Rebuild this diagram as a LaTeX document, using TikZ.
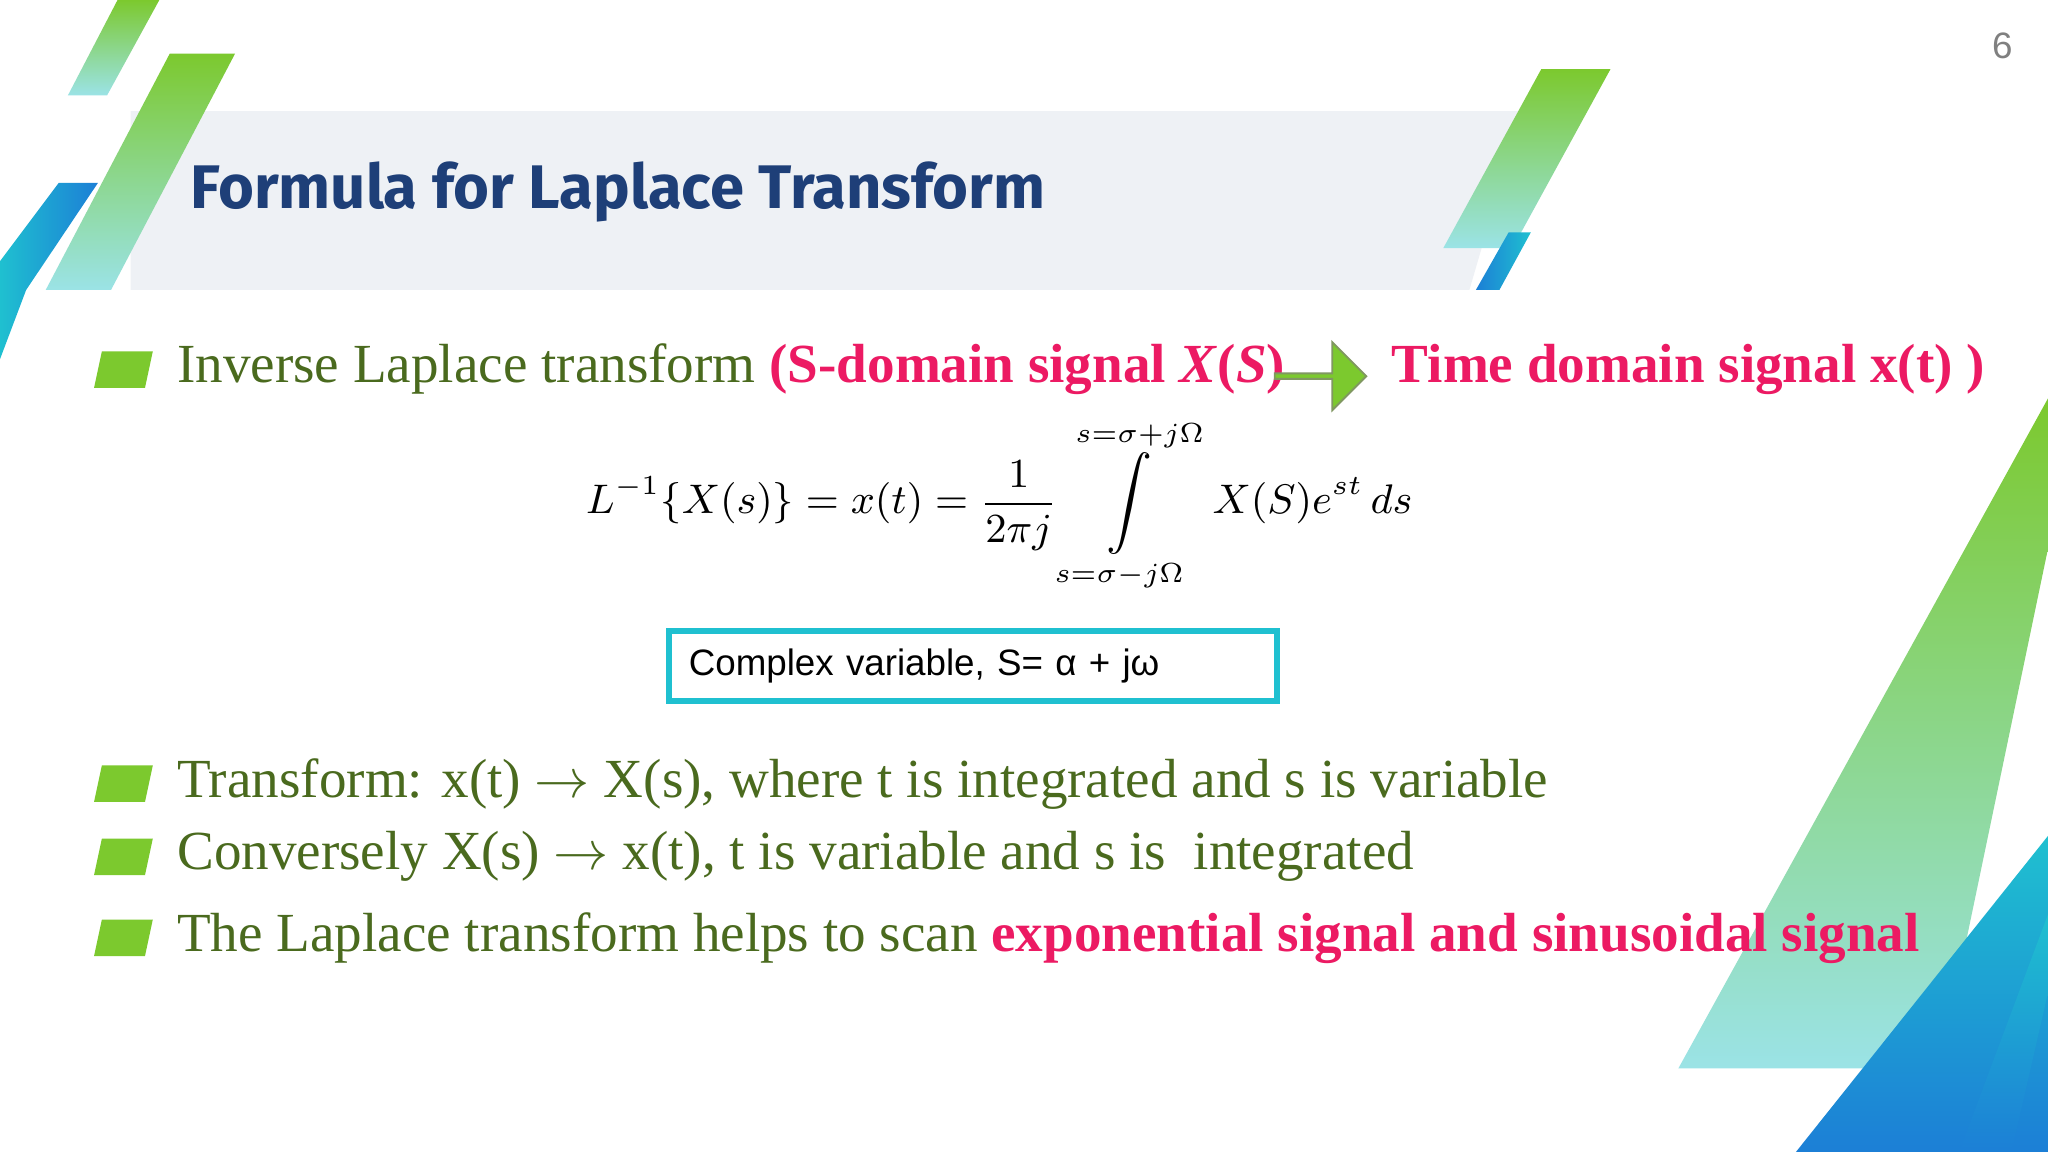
\documentclass[tikz,border=0pt]{standalone}
\usepackage{fontspec}
\setmainfont{Liberation Serif}
\newfontfamily\titlefont{Fira Sans}
\newfontfamily\arialf{Liberation Sans}
\usetikzlibrary{shapes.arrows}
\definecolor{txtg}{HTML}{4A6A1E}
\definecolor{pinkc}{HTML}{EC1A63}
\definecolor{navy}{HTML}{1E3F78}
\definecolor{gr}{HTML}{7CC92E}
\definecolor{cy}{HTML}{9BE3E6}
\definecolor{bl}{HTML}{1C7FD6}
\definecolor{cyb}{HTML}{1FC0D0}
\definecolor{ban}{HTML}{EEF1F5}
\tikzset{bul/.style={fill=gr},
  body/.style={anchor=west,inner sep=0,font=\fontsize{12}{14}\selectfont,text=txtg}}
\begin{document}
\begin{tikzpicture}[x=0.01cm,y=-0.01cm]
\useasboundingbox (0,0) rectangle (1568,882);
\fill[white] (0,0) rectangle (1568,882);
% banner
\fill[ban] (100,85) -- (1165,85) -- (1125,222) -- (100,222) -- cycle;
% top-left decor
\shade[top color=gr,bottom color=cy] (90,0) -- (122,0) -- (82,73) -- (52,73) -- cycle;
\shade[left color=cyb,right color=bl] (45,140) -- (75,140) -- (20,222) -- (0,275) -- (0,200) -- cycle;
\shade[top color=gr,bottom color=cy] (130,41) -- (180,41) -- (85,222) -- (35,222) -- cycle;
% top-right decor
\shade[top color=gr,bottom color=cy] (1180,53) -- (1233,53) -- (1158,190) -- (1105,190) -- cycle;
\shade[left color=bl,right color=cyb] (1155,178) -- (1172,178) -- (1148,222) -- (1130,222) -- cycle;
% bottom-right decor
\shade[top color=gr,bottom color=cy] (1568,305) -- (1568,420) -- (1485,818) -- (1285,818) -- cycle;
\shade[top color=cyb,bottom color=bl] (1568,640) -- (1568,882) -- (1375,882) -- cycle;
\shade[top color=cyb,bottom color=bl] (1568,700) -- (1568,760) -- (1540,882) -- (1500,882) -- cycle;
% title
\node[anchor=west,inner sep=0,text=navy,font=\titlefont\bfseries\fontsize{13.4}{15}\selectfont] (title) at (145,147) {Formula for Laplace Transform};
\node[text=gray,font=\arialf\fontsize{8}{9}\selectfont] (pg) at (1533,35) {6};
% bullets
\foreach \y in {283,600,656,718}{
  \fill[bul] (78,\y-14) -- (117,\y-14) -- (111,\y+14) -- (72,\y+14) -- cycle;}
\node[body] (t1) at (135,283) {Inverse Laplace transform \textcolor{pinkc}{\bfseries(S-domain signal \textit{X}(\textit{S})}};
\node[single arrow,fill=gr,draw=txtg!70,line width=0.4pt,minimum height=0.7cm,minimum width=0.52cm,single arrow head extend=0.08cm,inner sep=0] (arr) at (1010,288) {};
\node[body,text=pinkc,font=\fontsize{12}{14}\selectfont\bfseries] (t1b) at (1065,283) {Time domain signal x(t) )};
\node[font=\fontsize{9}{11}\selectfont,inner sep=0] (f) at (765,387)
 {$\displaystyle L^{-1}\{X(s)\}=x(t)=\frac{1}{2\pi j}\int\limits_{s=\sigma-j\Omega}^{s=\sigma+j\Omega}\; X(S)e^{st}\,ds$};
\node[draw=cyb,line width=1.3pt,minimum width=4.65cm,minimum height=0.54cm,inner xsep=0pt,text width=4.35cm,font=\arialf\fontsize{8}{10}\selectfont] (box) at (745,510) {Complex variable, S= α + jω};
\node[body] (t2) at (135,600) {Transform: x(t) $\rightarrow$ X(s), where t is integrated and s is variable};
\node[body] (t3) at (135,656) {Conversely X(s) $\rightarrow$ x(t), t is variable and s is\ \ integrated};
\node[body] (t4) at (135,718) {The Laplace transform helps to scan \textcolor{pinkc}{\bfseries exponential signal and sinusoidal signal}};
\end{tikzpicture}
\end{document}
